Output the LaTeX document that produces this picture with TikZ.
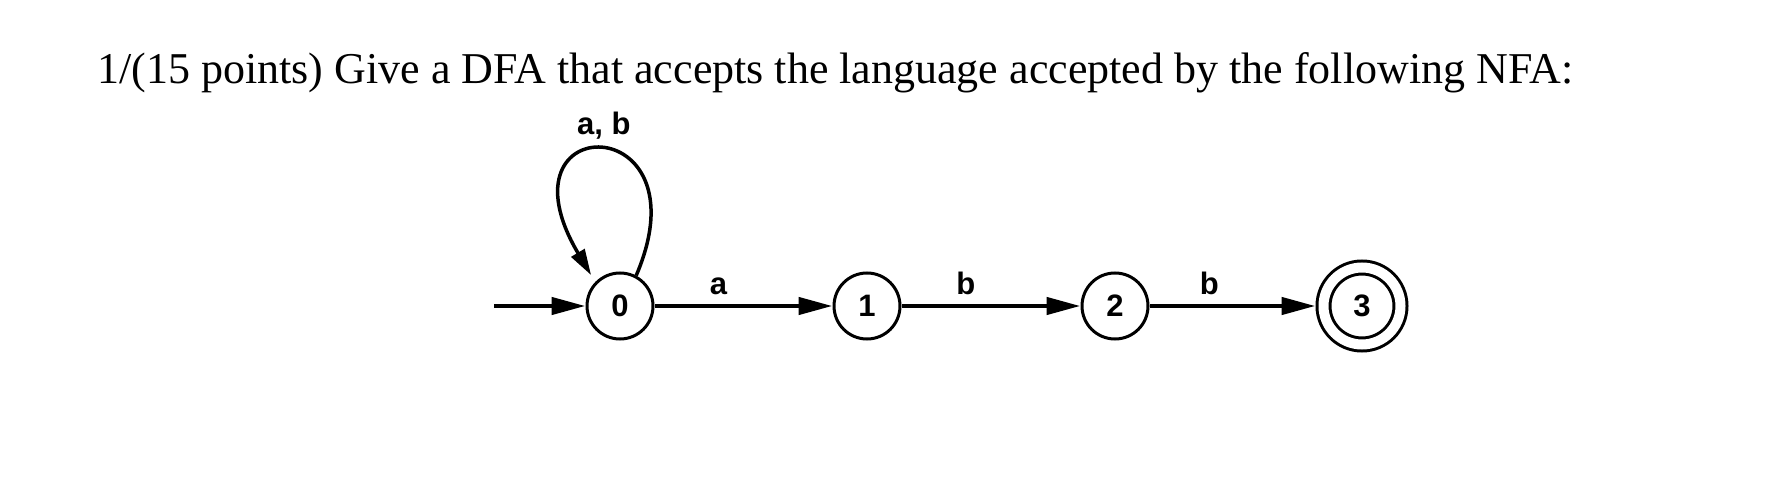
\documentclass[tikz,border=0pt]{standalone}
\usepackage{fontspec}
\setmainfont{Liberation Serif}
\newfontfamily\lblfont{Liberation Sans}
\usetikzlibrary{arrows.meta}

\begin{document}
\begin{tikzpicture}[x=1pt,y=1pt,
        st/.style={circle, draw, line width=3pt, fill=white,
                        inner sep=0pt, minimum size=66pt,
                        font=\lblfont\bfseries\fontsize{31}{31}\selectfont},
        acc/.style={st, double, double distance=10pt,
                        minimum size=77pt, outer sep=8pt},
        tr/.style={line width=4.5pt, -{Triangle[length=34pt,width=17pt]}},
        lbl/.style={font=\lblfont\bfseries\fontsize{31}{31}\selectfont,
                        inner sep=0pt, above=9pt}]
    \useasboundingbox (0,0) rectangle (1792,488);

    \node[anchor=base west, font=\fontsize{44}{50}\selectfont] (title) at (94,404)
        {1/(15 points) Give a DFA that accepts the language accepted by the following NFA:};

    \foreach \i/\x in {0/620,1/867,2/1115}
        \node[st] (q\i) at (\x,182) {\i};
    \node[acc] (q3) at (1362,182) {3};

    \coordinate (start) at (494,182);
    \draw[tr] (start) -- (q0);

    \foreach \a/\b/\l in {0/1/a,1/2/b,2/3/b}
        \draw[tr] (q\a) -- node[lbl, pos=.36] {\l} (q\b);

    % self loop on 0
    \draw[line width=3.5pt, -{Triangle[length=26pt,width=15pt]}, shorten >=8pt]
        (q0.62) .. controls (708,380) and (492,380) .. node[lbl, pos=.5, above=1pt] {a, b} (q0.136);
\end{tikzpicture}
\end{document}
